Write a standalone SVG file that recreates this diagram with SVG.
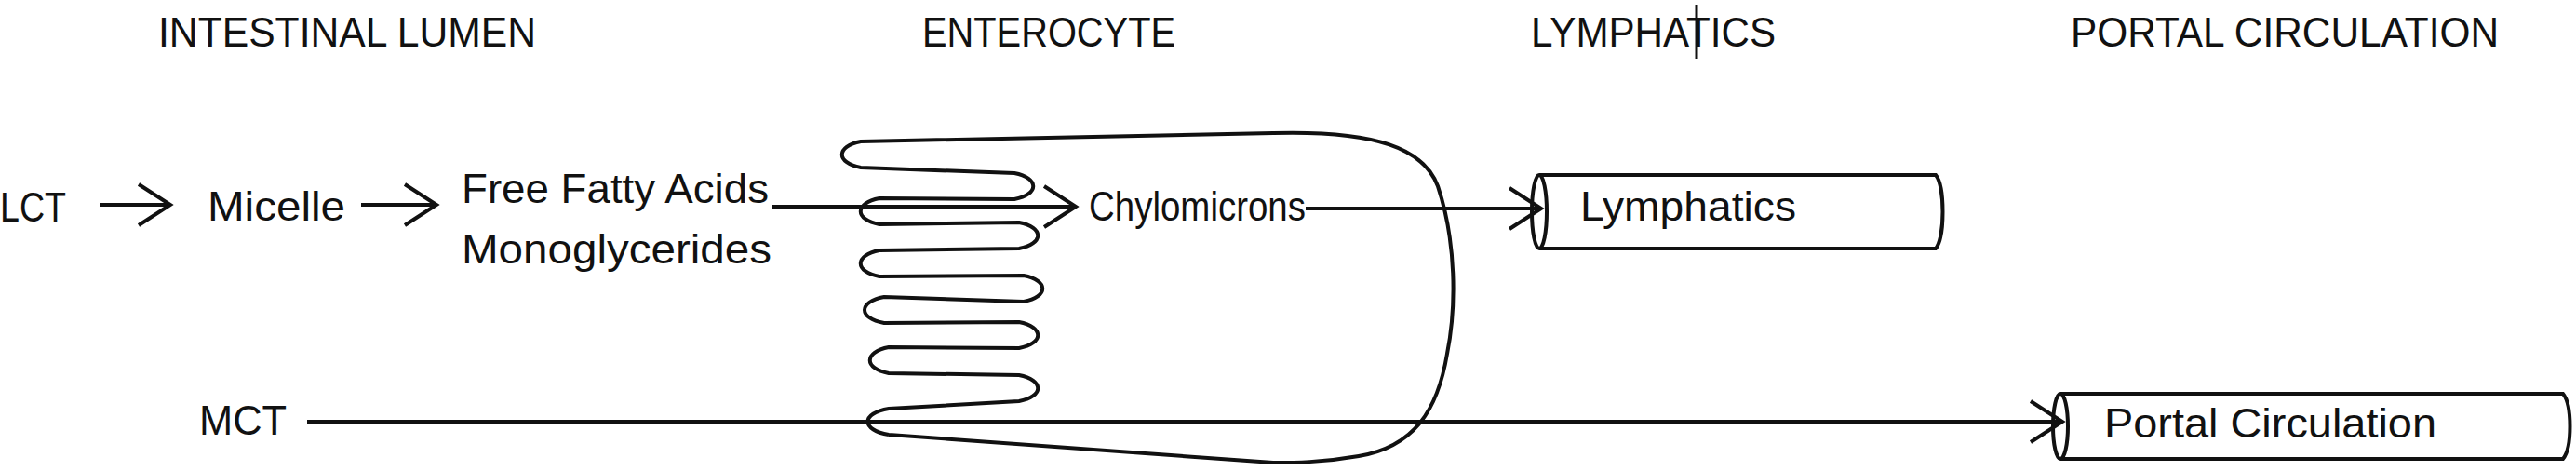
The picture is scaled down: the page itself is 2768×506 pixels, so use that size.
<svg xmlns="http://www.w3.org/2000/svg" width="2768" height="506" viewBox="0 0 2768 506">
<style>
text{font-family:"Liberation Sans",Arial,sans-serif;font-size:44px;fill:#111}
.ln{stroke:#111;stroke-width:4;fill:none}
</style>
<defs>
<marker id="ah" markerUnits="userSpaceOnUse" markerWidth="44" markerHeight="52" refX="38" refY="24" orient="auto">
<polyline points="4,2 38,24 4,46" fill="none" stroke="#111" stroke-width="4"/>
</marker>
</defs>
<g id="headings">
<text x="170" y="50" textLength="406" lengthAdjust="spacingAndGlyphs">INTESTINAL LUMEN</text>
<text x="991" y="50" textLength="272" lengthAdjust="spacingAndGlyphs">ENTEROCYTE</text>
<text x="1645" y="50" textLength="263" lengthAdjust="spacingAndGlyphs">LYMPHATICS</text>
<line x1="1823" y1="5" x2="1823" y2="63" stroke="#111" stroke-width="3"/>
<text x="2225" y="50" textLength="460" lengthAdjust="spacingAndGlyphs">PORTAL CIRCULATION</text>
</g>
<g id="enterocyte">
<path class="ln" d="M955,467 C925,462 925,444 955,439 L1095,431 C1122,426 1122,408 1095,403 L955,401 C928,396 928,378 955,373 L1095,374 C1122,369 1122,351 1095,346 L950,347 C922,342 922,324 950,319 L1100,324 C1127,319 1127,301 1100,296 L945,297 C918,292 918,274 945,269 L1095,267 C1122,262 1122,244 1095,239 L945,241 C918,236 918,218 945,213 L1090,214 C1117,209 1117,191 1090,186 L925,180 C898,175 898,157 925,152 L1368,143 C1480,140 1530,160 1545,200 C1565,260 1565,330 1555,380 C1545,440 1520,480 1460,490 C1420,497 1390,497 1368,497 L955,467"/>
</g>
<g id="LCT"><text x="0" y="238" textLength="71" lengthAdjust="spacingAndGlyphs">LCT</text></g>
<g id="Micelle"><text x="223" y="237" textLength="148" lengthAdjust="spacingAndGlyphs">Micelle</text></g>
<g id="FFA">
<text x="496" y="218" textLength="330" lengthAdjust="spacingAndGlyphs">Free Fatty Acids</text>
<text x="496" y="283" textLength="333" lengthAdjust="spacingAndGlyphs">Monoglycerides</text>
</g>
<g id="Chylomicrons"><text x="1170" y="237" textLength="233" lengthAdjust="spacingAndGlyphs">Chylomicrons</text></g>
<g id="MCT"><text x="214" y="467" textLength="94" lengthAdjust="spacingAndGlyphs">MCT</text></g>
<g id="Lymphatics">
<path class="ln" d="M1654,188 L2080,188 C2090,200 2090,255 2080,267 L1654,267"/>
<ellipse class="ln" cx="1654" cy="227.5" rx="8" ry="39.5"/>
<text x="1698" y="237" textLength="232" lengthAdjust="spacingAndGlyphs">Lymphatics</text>
</g>
<g id="Portal">
<path class="ln" d="M2214,423 L2754,423 C2764,435 2764,481 2754,493 L2214,493"/>
<ellipse class="ln" cx="2214" cy="458" rx="8" ry="35"/>
<text x="2261" y="470" textLength="357" lengthAdjust="spacingAndGlyphs">Portal Circulation</text>
</g>
<g id="connectors">
<line class="ln" x1="107" y1="220" x2="183" y2="220" marker-end="url(#ah)"/>
<line class="ln" x1="388" y1="220" x2="469" y2="220" marker-end="url(#ah)"/>
<line class="ln" x1="830" y1="222" x2="1156" y2="222" marker-end="url(#ah)"/>
<line class="ln" x1="1403" y1="224" x2="1656" y2="224" marker-end="url(#ah)"/>
<line class="ln" x1="330" y1="453" x2="2216" y2="453" marker-end="url(#ah)"/>
</g>
</svg>
